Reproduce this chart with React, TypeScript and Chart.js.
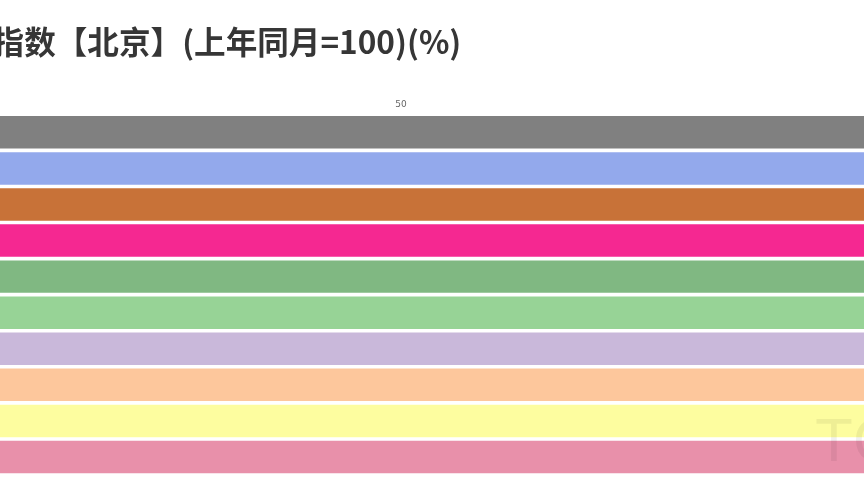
import { useEffect, useRef } from "react"
import { Chart, registerables } from "chart.js"

Chart.register(...registerables)

// 数据
const labels = [
  "2023年1月",
  "2023年2月",
  "2023年3月",
  "2023年4月",
  "2023年5月",
  "2023年6月",
  "2023年7月",
  "2023年8月",
  "2023年9月",
  "2023年10月",
]
const values = [102.0, 101.0, 100.7, 100.4, 100.2, 99.8, 99.7, 100.2, 100.1, 99.6]
const barColors = [
  "#808080",
  "#93a9ec",
  "#c87238",
  "#f52891",
  "#80b882",
  "#97d396",
  "#c9b8da",
  "#fdc79c",
  "#fdfd9f",
  "#e890aa",
]
const title = "居民消费价格指数【北京】(上年同月=100)(%)"
const xMin = 0
const xMax = 110
const xStep = 50

// the page only shows a crop of the wider chart
const OFFSET_LEFT = 201
const CANVAS_W = 1212
const CANVAS_H = 486

const watermark = {
  id: "watermark",
  afterDraw(chart: Chart) {
    const ctx = chart.ctx
    ctx.save()
    ctx.font = "300 62px 'Liberation Sans'"
    ctx.fillStyle = "rgba(0,0,0,0.06)"
    ctx.textBaseline = "alphabetic"
    ctx.fillText("TC", OFFSET_LEFT + 815, 461)
    ctx.restore()
  },
}

export default function App() {
  const chartRef = useRef<HTMLCanvasElement>(null)
  const chartInstance = useRef<Chart | null>(null)

  useEffect(() => {
    if (!chartRef.current) return
    if (chartInstance.current) chartInstance.current.destroy()
    const ctx = chartRef.current.getContext("2d")
    if (!ctx) return

    chartInstance.current = new Chart(ctx, {
      type: "bar",
      data: {
        labels,
        datasets: [
          {
            data: values,
            backgroundColor: barColors,
            borderWidth: 0,
            barPercentage: 0.9,
            categoryPercentage: 1,
          },
        ],
      },
      options: {
        indexAxis: "y",
        responsive: true,
        maintainAspectRatio: false,
        animation: false,
        layout: { padding: { left: 4, right: 7, top: 0, bottom: 11 } },
        scales: {
          x: {
            position: "top",
            min: xMin,
            max: xMax,
            grid: { display: false, drawTicks: false },
            border: { display: false },
            ticks: {
              stepSize: xStep,
              color: "#666",
              padding: 4,
              font: { size: 9, family: "'DejaVu Sans'" },
            },
            afterFit: (scale) => {
              scale.height = 24
            },
          },
          y: {
            grid: { display: false },
            border: { display: false },
            ticks: { color: "#666", font: { size: 11 } },
            afterFit: (scale) => {
              scale.width = 100
            },
          },
        },
        plugins: {
          legend: { display: false },
          tooltip: { enabled: false },
          title: {
            display: true,
            text: title,
            align: "start",
            color: "#363636",
            font: { size: 31.6, weight: "bold", family: "'Noto Sans CJK SC'" },
            padding: { top: 23, bottom: 29.4 },
          },
        },
      },
      plugins: [watermark],
    })

    return () => {
      if (chartInstance.current) {
        chartInstance.current.destroy()
        chartInstance.current = null
      }
    }
  }, [])

  return (
    <div
      style={{
        position: "fixed",
        left: -OFFSET_LEFT,
        top: 0,
        width: CANVAS_W,
        height: CANVAS_H,
        background: "#fff",
      }}
    >
      <canvas ref={chartRef} />
    </div>
  )
}
